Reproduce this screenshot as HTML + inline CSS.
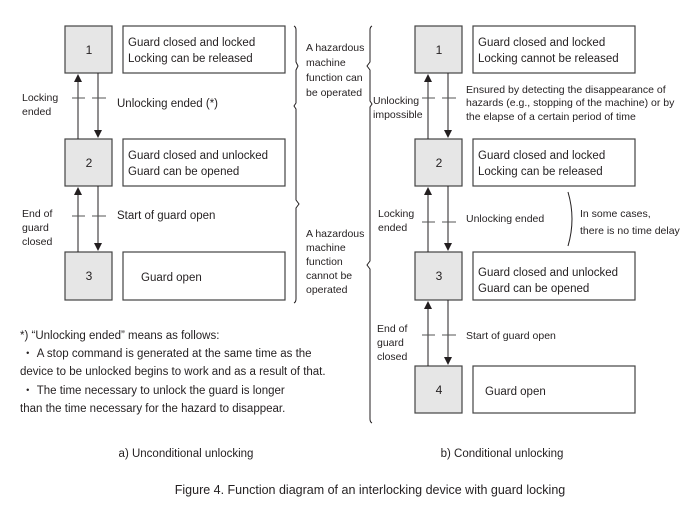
<!DOCTYPE html>
<html><head><meta charset="utf-8"><style>
html,body{margin:0;padding:0;background:#fff}
svg{display:block}
text{font-family:"Liberation Sans",sans-serif;fill:#231f20}
</style></head><body>
<svg width="700" height="524" viewBox="0 0 700 524" xmlns="http://www.w3.org/2000/svg">
<g stroke="#444" stroke-width="1.2">
<rect x="65" y="26" width="47" height="47" fill="#e6e6e6"/>
<rect x="65" y="139" width="47" height="47" fill="#e6e6e6"/>
<rect x="65" y="252" width="47" height="48" fill="#e6e6e6"/>
<rect x="123" y="26" width="162" height="47" fill="#fff"/>
<rect x="123" y="139" width="162" height="47" fill="#fff"/>
<rect x="123" y="252" width="162" height="48" fill="#fff"/>
<rect x="415" y="26" width="47" height="47" fill="#e6e6e6"/>
<rect x="415" y="139" width="47" height="47" fill="#e6e6e6"/>
<rect x="415" y="252" width="47" height="48" fill="#e6e6e6"/>
<rect x="415" y="366" width="47" height="47" fill="#e6e6e6"/>
<rect x="473" y="26" width="162" height="47" fill="#fff"/>
<rect x="473" y="139" width="162" height="47" fill="#fff"/>
<rect x="473" y="252" width="162" height="48" fill="#fff"/>
<rect x="473" y="366" width="162" height="47" fill="#fff"/>
</g>
<g stroke="#231f20" stroke-width="1" fill="none">
<line x1="78" y1="139" x2="78" y2="80"/><line x1="98" y1="73" x2="98" y2="132"/>
<line x1="78" y1="252" x2="78" y2="193"/><line x1="98" y1="186" x2="98" y2="245"/>
<line x1="428" y1="139" x2="428" y2="80"/><line x1="448" y1="73" x2="448" y2="132"/>
<line x1="428" y1="252" x2="428" y2="193"/><line x1="448" y1="186" x2="448" y2="245"/>
<line x1="428" y1="366" x2="428" y2="307"/><line x1="448" y1="300" x2="448" y2="359"/>
</g>
<g fill="#231f20">
<path d="M74,82 L82,82 L78,74Z"/><path d="M94,130 L102,130 L98,138Z"/>
<path d="M74,195 L82,195 L78,187Z"/><path d="M94,243 L102,243 L98,251Z"/>
<path d="M424,82 L432,82 L428,74Z"/><path d="M444,130 L452,130 L448,138Z"/>
<path d="M424,195 L432,195 L428,187Z"/><path d="M444,243 L452,243 L448,251Z"/>
<path d="M424,309 L432,309 L428,301Z"/><path d="M444,357 L452,357 L448,365Z"/>
</g>
<g stroke="#555" stroke-width="1">
<line x1="72" y1="98" x2="85" y2="98"/><line x1="92" y1="98" x2="106" y2="98"/>
<line x1="72" y1="216" x2="85" y2="216"/><line x1="92" y1="216" x2="106" y2="216"/>
<line x1="422" y1="98" x2="435" y2="98"/><line x1="442" y1="98" x2="456" y2="98"/>
<line x1="422" y1="222" x2="435" y2="222"/><line x1="442" y1="222" x2="456" y2="222"/>
<line x1="422" y1="335" x2="435" y2="335"/><line x1="442" y1="335" x2="456" y2="335"/>
</g>
<g stroke="#231f20" stroke-width="1" fill="none">
<path d="M294,26 Q296,27 296,30 L296,62 L298,66 L296,70 L296,103 L294,106 L296,109 L296,200 L299,204 L296,208 L296,299 Q296,302 294,303"/>
<path d="M372,26 Q370,27 370,30 L370,62 L367,66 L370,70 L370,101 L372,104 L370,107 L370,261 L367,265 L370,269 L370,419 Q370,422 372,423"/>
<path d="M568,192 Q576,219 568,246"/>
</g>
<g font-size="11.5">
<text x="89" y="54" text-anchor="middle" font-size="12">1</text>
<text x="89" y="167" text-anchor="middle" font-size="12">2</text>
<text x="89" y="280" text-anchor="middle" font-size="12">3</text>
<text x="128" y="46">Guard closed and locked</text>
<text x="128" y="62">Locking can be released</text>
<text x="128" y="159">Guard closed and unlocked</text>
<text x="128" y="175">Guard can be opened</text>
<text x="141" y="281">Guard open</text>
<text x="439" y="54" text-anchor="middle" font-size="12">1</text>
<text x="439" y="167" text-anchor="middle" font-size="12">2</text>
<text x="439" y="280" text-anchor="middle" font-size="12">3</text>
<text x="439" y="394" text-anchor="middle" font-size="12">4</text>
<text x="478" y="46">Guard closed and locked</text>
<text x="478" y="62">Locking cannot be released</text>
<text x="478" y="159">Guard closed and locked</text>
<text x="478" y="175">Locking can be released</text>
<text x="478" y="276">Guard closed and unlocked</text>
<text x="478" y="292">Guard can be opened</text>
<text x="485" y="395">Guard open</text>
<text x="117" y="107">Unlocking ended (*)</text>
<text x="117" y="219">Start of guard open</text>
</g>
<g font-size="10.5">
<text x="22" y="101">Locking</text><text x="22" y="115">ended</text>
<text x="22" y="217">End of</text><text x="22" y="231">guard</text><text x="22" y="245">closed</text>
<text x="306" y="51">A hazardous</text><text x="306" y="66">machine</text><text x="306" y="81">function can</text><text x="306" y="96">be operated</text>
<text x="306" y="237">A hazardous</text><text x="306" y="251">machine</text><text x="306" y="265">function</text><text x="306" y="279">cannot be</text><text x="306" y="293">operated</text>
<text x="373" y="104">Unlocking</text><text x="373" y="118">impossible</text>
<text x="466" y="93">Ensured by detecting the disappearance of</text>
<text x="466" y="106">hazards (e.g., stopping of the machine) or by</text>
<text x="466" y="120">the elapse of a certain period of time</text>
<text x="378" y="217">Locking</text><text x="378" y="231">ended</text>
<text x="466" y="222">Unlocking ended</text>
<text x="580" y="217">In some cases,</text>
<text x="580" y="234">there is no time delay</text>
<text x="377" y="332">End of</text><text x="377" y="346">guard</text><text x="377" y="360">closed</text>
<text x="466" y="339">Start of guard open</text>
</g>
<g font-size="11.5">
<text x="20" y="339">*) “Unlocking ended” means as follows:</text>
<text x="22" y="357">・  A stop command is generated at the same time as the</text>
<text x="20" y="375">device to be unlocked begins to work and as a result of that.</text>
<text x="22" y="394">・  The time necessary to unlock the guard is longer</text>
<text x="20" y="412">than the time necessary for the hazard to disappear.</text>
<text x="186" y="457" text-anchor="middle">a) Unconditional unlocking</text>
<text x="502" y="457" text-anchor="middle">b) Conditional unlocking</text>
<text x="370" y="494" text-anchor="middle" font-size="12.5">Figure 4. Function diagram of an interlocking device with guard locking</text>
</g>
</svg>
</body></html>
